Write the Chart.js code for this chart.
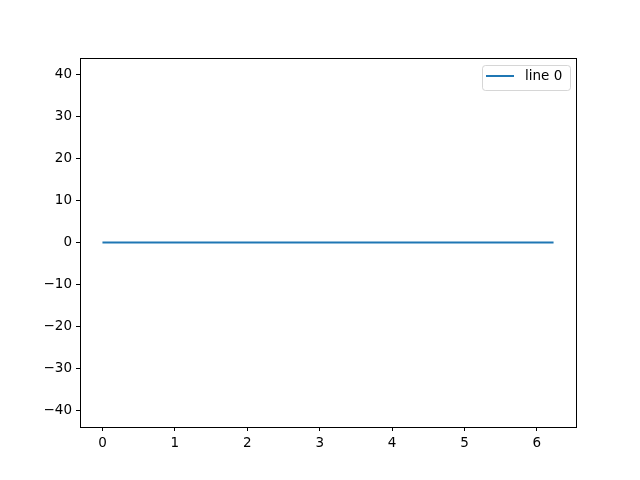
<!DOCTYPE html>
<html>
<head>
<meta charset="utf-8">
<script src="https://cdn.jsdelivr.net/npm/chart.js@4"></script>
<style>
  html, body { margin: 0; padding: 0; background: #fff; }
  #wrap { width: 640px; height: 480px; }
</style>
</head>
<body>
<div id="wrap"><canvas id="c" width="640" height="480"></canvas></div>
<script>
// values
var xValues = [0, 1, 2, 3, 4, 5, 6, 6.23];
var yValues = [0, 0, 0, 0, 0, 0, 0, 0];
var seriesLabel = "line 0";
var xTicks = [0, 1, 2, 3, 4, 5, 6];
var yTicks = [-40, -30, -20, -10, 0, 10, 20, 30, 40];

var FONT = "'DejaVu Sans', sans-serif";

var frame = {
  id: "frame",
  afterDraw: function (chart) {
    var a = chart.chartArea, ctx = chart.ctx;
    ctx.save();
    ctx.strokeStyle = "#000";
    ctx.lineWidth = 1;
    ctx.strokeRect(Math.round(a.left) + 0.5, Math.round(a.top) + 0.5,
                   Math.round(a.right - a.left), Math.round(a.bottom - a.top));
    // legend box, upper right
    var w = 88, h = 25, x = a.right - 6 - w, y = a.top + 7;
    ctx.globalAlpha = 0.8;
    ctx.fillStyle = "#fff";
    ctx.strokeStyle = "#ccc";
    ctx.beginPath();
    ctx.roundRect(x + 0.5, y + 0.5, w, h, 3);
    ctx.fill(); ctx.stroke();
    ctx.globalAlpha = 1;
    ctx.strokeStyle = "#1f77b4";
    ctx.lineWidth = 2;
    ctx.beginPath();
    ctx.moveTo(x + 4, y + 11); ctx.lineTo(x + 32, y + 11);
    ctx.stroke();
    ctx.fillStyle = "#000";
    ctx.font = "13.5px " + FONT;
    ctx.textBaseline = "middle";
    ctx.fillText(seriesLabel, x + 43, y + 11);
    ctx.restore();
  }
};

new Chart(document.getElementById("c"), {
  type: "line",
  data: {
    datasets: [{
      label: seriesLabel,
      data: xValues.map(function (x, i) { return { x: x, y: yValues[i] }; }),
      borderColor: "#1f77b4",
      borderWidth: 2,
      pointRadius: 0,
      fill: false,
      tension: 0
    }]
  },
  options: {
    responsive: false,
    animation: false,
    layout: { padding: { left: 0, top: 58, right: 64, bottom: 0 } },
    plugins: { legend: { display: false }, tooltip: { enabled: false } },
    scales: {
      x: {
        type: "linear",
        min: -0.31, max: 6.54,
        afterBuildTicks: function (s) { s.ticks = xTicks.map(function (v) { return { value: v }; }); },
        afterFit: function (s) { s.height = 53; },
        border: { display: false },
        grid: { drawOnChartArea: false, drawTicks: true, tickLength: 4, color: "#000" },
        ticks: { color: "#000", padding: 4, maxRotation: 0, font: { family: FONT, size: 13.5 } }
      },
      y: {
        type: "linear",
        min: -44, max: 44,
        afterBuildTicks: function (s) { s.ticks = yTicks.map(function (v) { return { value: v }; }); },
        afterFit: function (s) { s.width = 80; },
        border: { display: false },
        grid: { drawOnChartArea: false, drawTicks: true, tickLength: 4, color: "#000" },
        ticks: {
          color: "#000", padding: 4, font: { family: FONT, size: 13.5 },
          callback: function (v) { return v < 0 ? "\u2212" + Math.abs(v) : String(v); }
        }
      }
    }
  },
  plugins: [frame]
});
</script>
</body>
</html>
